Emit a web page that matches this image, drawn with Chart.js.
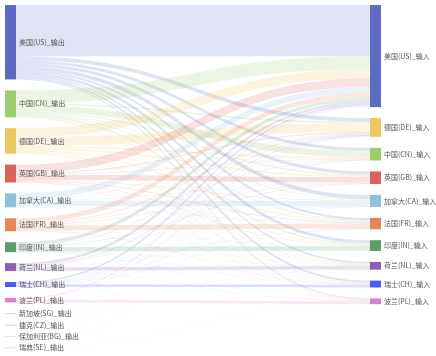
<!DOCTYPE html>
<html><head><meta charset="utf-8">
<script src="https://cdn.jsdelivr.net/npm/chart.js@4/dist/chart.umd.min.js"></script>
<style>html,body{margin:0;padding:0;background:#fff}#wrap{width:436px;height:356px;position:relative}</style>
</head><body><div id="wrap"><canvas id="c"></canvas></div>
<script>
// ---- data ----
const sourceNames = ['美国(US)_输出','中国(CN)_输出','德国(DE)_输出','英国(GB)_输出','加拿大(CA)_输出','法国(FR)_输出','印度(IN)_输出','荷兰(NL)_输出','瑞士(CH)_输出','波兰(PL)_输出','新加坡(SG)_输出','捷克(CZ)_输出','保加利亚(BG)_输出','瑞典(SE)_输出'];
const targetNames = ['美国(US)_输入','德国(DE)_输入','中国(CN)_输入','英国(GB)_输入','加拿大(CA)_输入','法国(FR)_输入','印度(IN)_输入','荷兰(NL)_输入','瑞士(CH)_输入','波兰(PL)_输入'];
// rows: sources, columns: targets (US, DE, CN, GB, CA, FR, IN, NL, CH, PL)
const flowsUS = [51.5, 3.7, 3, 3, 4, 2.1, 3, 1.5, 2, 1];
const flowsCN = [13, 1.6, 6.3, 1.2, 0.9, 0.9, 1.6, 0.5, 0.5, 0.5];
const flowsDE = [9, 8.8, 1.7, 1.5, 0.5, 1.5, 0.5, 1, 0.5, 0.5];
const flowsGB = [8.7, 1, 0.5, 5.3, 0.5, 0.8, 0.5, 0.3, 0.2, 0.2];
const flowsCA = [6, 0.5, 0.3, 0.5, 5.5, 0.5, 0.2, 0.2, 0.2, 0.1];
const flowsFR = [5, 1, 0.3, 0.5, 0.2, 5, 0.3, 0.3, 0.3, 0.1];
const flowsIN = [3.5, 0.4, 0.2, 0.3, 0.2, 0.2, 4.5, 0.3, 0.2, 0.2];
const flowsNL = [2.5, 0.8, 0.2, 0.2, 0.1, 0.2, 0.1, 3.5, 0.2, 0.2];
const flowsCH = [1.5, 0.3, 0.1, 0.1, 0.1, 0.1, 0, 0.1, 2.7, 0];
const flowsPL = [1, 0.4, 0, 0.1, 0, 0.1, 0, 0.1, 0.1, 2.7];
const flowsSG = [0.3, 0, 0.1, 0, 0, 0, 0.1, 0, 0, 0];
const flowsCZ = [0.2, 0.2, 0, 0, 0, 0, 0, 0, 0, 0.1];
const flowsBG = [0.2, 0.1, 0, 0, 0, 0, 0, 0, 0, 0.1];
const flowsSE = [0.2, 0.1, 0, 0, 0, 0, 0, 0, 0, 0.1];
const flows = [flowsUS, flowsCN, flowsDE, flowsGB, flowsCA, flowsFR, flowsIN, flowsNL, flowsCH, flowsPL, flowsSG, flowsCZ, flowsBG, flowsSE];

// ---- styles ----
const sourceColors = ['#5c6bc0','#9ccc6e','#eec65f','#d9625f','#8fc0df','#e4875a','#5c9e6d','#8c5fb0','#4a5cf5','#d87fcf','#9fd8cf','#a9a6d6','#f4c69a','#f2b3c6'];
const targetColors = ['#5c6bc0','#eec65f','#9ccc6e','#d9625f','#8fc0df','#e4875a','#5c9e6d','#8c5fb0','#4a5cf5','#d87fcf'];
const NODE_GAP = 11;      // value units between stacked nodes
const NODE_W = 11;        // px
const LINK_ALPHA = 0.19;

// ---- layout in value space ----
const srcVal = flows.map(r => r.reduce((a,b)=>a+b,0));
const tgtVal = targetNames.map((_,j) => flows.reduce((a,r)=>a+r[j],0));
function stack(vals){ let y=0; return vals.map(v=>{const s=y; y+=v+NODE_GAP; return s;}); }
const srcY = stack(srcVal), tgtY = stack(tgtVal);
const yMax = Math.max(srcY[srcY.length-1]+srcVal[srcVal.length-1], tgtY[tgtY.length-1]+tgtVal[tgtVal.length-1]);

// anchor points so scales have data
const anchors = sourceNames.map((n,i)=>({x:0,y:srcY[i]+srcVal[i]/2})).concat(targetNames.map((n,j)=>({x:1,y:tgtY[j]+tgtVal[j]/2})));

function hexA(h,a){const n=parseInt(h.slice(1),16);return `rgba(${n>>16},${(n>>8)&255},${n&255},${a})`;}

const sankeyPlugin = {
  id:'sankey',
  beforeDatasetsDraw(chart){
    const {ctx} = chart, xs = chart.scales.x, ys = chart.scales.y;
    const xL = xs.getPixelForValue(0), xR = xs.getPixelForValue(1);
    const x0 = xL + NODE_W, x1 = xR - NODE_W, xm = (x0+x1)/2;
    // out/in offsets
    const outOff = srcY.slice(), inOff = tgtY.slice();
    const links = [];
    for (let i=0;i<flows.length;i++) for (let j=0;j<targetNames.length;j++){
      const v = flows[i][j]; if (!v) continue;
      links.push({i,j,v,sy:outOff[i],ty:0}); outOff[i]+=v;
    }
    // in-edges ordered by source order
    for (let j=0;j<targetNames.length;j++){
      links.filter(l=>l.j===j).sort((a,b)=>a.i-b.i).forEach(l=>{l.ty=inOff[j]; inOff[j]+=l.v;});
    }
    ctx.save();
    links.forEach(l=>{
      const s0=ys.getPixelForValue(l.sy), s1=ys.getPixelForValue(l.sy+l.v);
      const t0=ys.getPixelForValue(l.ty), t1=ys.getPixelForValue(l.ty+l.v);
      ctx.beginPath();
      ctx.moveTo(x0,s0);
      ctx.bezierCurveTo(xm,s0,xm,t0,x1,t0);
      ctx.lineTo(x1,t1);
      ctx.bezierCurveTo(xm,t1,xm,s1,x0,s1);
      ctx.closePath();
      ctx.fillStyle = hexA(sourceColors[l.i], LINK_ALPHA);
      ctx.fill();
    });
    // nodes
    const drawNode=(x,y0,v,col)=>{
      const p0=ys.getPixelForValue(y0), p1=ys.getPixelForValue(y0+v);
      ctx.fillStyle=col; ctx.fillRect(x,p0,NODE_W,Math.max(p1-p0,0.6));
      return (p0+p1)/2;
    };
    ctx.font = '7px "Noto Sans CJK SC", sans-serif';
    ctx.textBaseline='middle'; ctx.textAlign='left';
    sourceNames.forEach((n,i)=>{
      const c=drawNode(xL,srcY[i],srcVal[i],sourceColors[i]);
      ctx.fillStyle='#555'; ctx.fillText(n,xL+NODE_W+3,c);
    });
    targetNames.forEach((n,j)=>{
      const c=drawNode(x1,tgtY[j],tgtVal[j],targetColors[j]);
      ctx.fillStyle='#555'; ctx.fillText(n,xR+3,c);
    });
    ctx.restore();
  }
};

new Chart(document.getElementById('c'), {
  type:'scatter',
  data:{datasets:[{data:anchors,pointRadius:0,pointHoverRadius:0,showLine:false}]},
  options:{
    responsive:true, maintainAspectRatio:false, animation:false,
    layout:{padding:{left:5,right:55,top:5,bottom:8}},
    plugins:{legend:{display:false},tooltip:{enabled:false}},
    scales:{
      x:{type:'linear',min:0,max:1,display:false},
      y:{type:'linear',min:0,max:yMax,reverse:true,display:false}
    }
  },
  plugins:[sankeyPlugin]
});
</script></body></html>
